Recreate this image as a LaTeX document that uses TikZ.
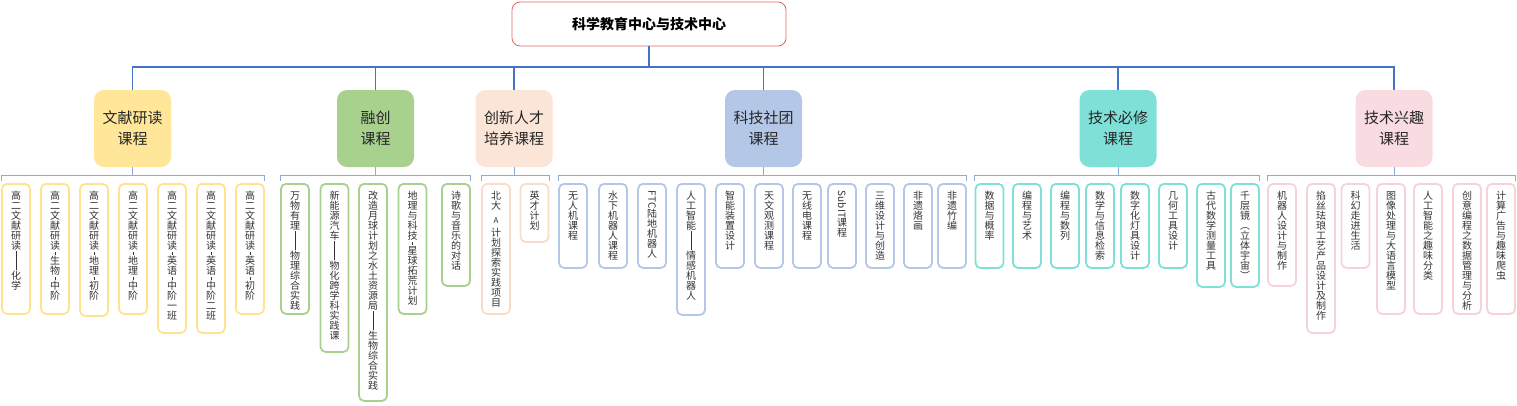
\documentclass[tikz,border=0pt]{standalone}
\usepackage{fontspec}
\setmainfont{Noto Sans CJK SC}
\usepackage{graphicx}
\definecolor{cy}{HTML}{FFE699}
\definecolor{cyl}{HTML}{FFE38F}
\definecolor{cg}{HTML}{A9D18E}
\definecolor{cp}{HTML}{FBE5D6}
\definecolor{cpl}{HTML}{FADCC8}
\definecolor{cb}{HTML}{B4C7E7}
\definecolor{ct}{HTML}{7FE0D8}
\definecolor{ck}{HTML}{F8DCE1}
\definecolor{ckl}{HTML}{F6D2D9}
\definecolor{busc}{HTML}{4472C4}
\definecolor{subc}{HTML}{8EA9DB}
\definecolor{rootc}{HTML}{E06666}
\definecolor{txt}{HTML}{333333}
\newcommand\vld{}
\newcommand\vsd{}
\newcommand\vlat[1]{\raisebox{9pt}{\rotatebox{-90}{#1}}}
\newcommand\vA{\rule[-4pt]{0pt}{17pt}{\fontsize{8}{8}\selectfont A}}
\ExplSyntaxOn
\NewDocumentCommand \vstack { m }
  {
    \offinterlineskip
    \tl_map_inline:nn {#1}
      {
        \str_case:nnF {##1}
          {
            { \vld } { \hbox_to_wd:nn { \linewidth } { \hfil \vrule ~ width ~ 0.6pt ~ height ~ 19.5pt ~ depth ~ -0.5pt \vrule ~ width ~ 0pt ~ height ~ 20pt ~ depth ~ 0pt \hfil } }
            { \vsd } { \hbox_to_wd:nn { \linewidth } { \hfil \vrule ~ width ~ 0.5pt ~ height ~ 4pt ~ depth ~ -1pt \vrule ~ width ~ 0pt ~ height ~ 5pt ~ depth ~ 0pt \hfil } }
          }
          { \hbox_to_wd:nn { \linewidth } { \hfil \vrule ~ width ~ 0pt ~ height ~ 8.6pt ~ depth ~ 1.4pt ##1 \hfil } }
      }
  }
\ExplSyntaxOff
\newcommand\lf[2]{\parbox[c][#1][t]{24pt}{\fontsize{10}{10}\selectfont\color{txt}\vspace*{7pt}\vstack{#2}}}
\tikzset{
  rootbox/.style={draw=rootc, line width=0.8pt, rounded corners=8pt, fill=white, minimum width=274pt, minimum height=44pt, inner sep=0pt, font=\bfseries\fontsize{14}{16}\selectfont},
  catbox/.style={fill=#1, rounded corners=10pt, minimum width=77pt, minimum height=77pt, inner sep=0pt, align=center, font=\fontsize{15}{21}\selectfont, text=black!85},
  leaf/.style={draw=#1, line width=1.8pt, rounded corners=5pt, fill=white, anchor=north, minimum width=28pt, inner sep=0pt},
  bus/.style={draw=busc, line width=1.3pt},
  sub/.style={draw=subc, line width=1pt},
}
\begin{document}
\begin{tikzpicture}[x=1pt, y=-1pt]
\useasboundingbox (0,0) rectangle (1517,405);
\coordinate (bus) at (0,67);
\coordinate (brk) at (0,175);
\node[rootbox] (root) at (649,24) {科学教育中心与技术中心};
\node[catbox=cy] (k1) at (132.5,128.5) {文献研读\\课程};
\node[catbox=cg] (k2) at (375.5,128.5) {融创\\课程};
\node[catbox=cp] (k3) at (514,128.5) {创新人才\\培养课程};
\node[catbox=cb] (k4) at (763.5,128.5) {科技社团\\课程};
\node[catbox=ct] (k5) at (1118,128.5) {技术必修\\课程};
\node[catbox=ck] (k6) at (1394,128.5) {技术兴趣\\课程};
% top-level connectors
\draw[bus] (root.south) -- (root.south |- bus);
\draw[bus] (k1.north) -- (k1.north |- bus) -- (k6.north |- bus) -- (k6.north);
\foreach \k in {k2,k3,k4,k5} \draw[bus] (\k.north |- bus) -- (\k.north);
% group 1
\node[leaf=cyl] (a1) at (16,183) {\lf{130pt}{高二文献研读\vld 化学}};
\node[leaf=cyl] (a2) at (55,183) {\lf{130pt}{高二文献研读\vsd 生物\vsd 中阶}};
\node[leaf=cyl] (a3) at (94,183) {\lf{132pt}{高二文献研读\vsd 地理\vsd 初阶}};
\node[leaf=cyl] (a4) at (133,183) {\lf{130pt}{高二文献研读\vsd 地理\vsd 中阶}};
\node[leaf=cyl] (a5) at (172,183) {\lf{149pt}{高二文献研读\vsd 英语\vsd 中阶一班}};
\node[leaf=cyl] (a6) at (211,183) {\lf{149pt}{高二文献研读\vsd 英语\vsd 中阶二班}};
\node[leaf=cyl] (a7) at (250,183) {\lf{130pt}{高二文献研读\vsd 英语\vsd 初阶}};
% group 2
\node[leaf=cg] (b1) at (295,183) {\lf{130pt}{万物有理\vld 物理综合实践}};
\node[leaf=cg] (b2) at (334.5,183) {\lf{168pt}{新能源汽车\vld 物化跨学科实践课}};
\node[leaf=cg] (b3) at (373,183) {\lf{217pt}{改造月球计划之水土资源局\vld 生物综合实践}};
\node[leaf=cg] (b4) at (412.5,183) {\lf{130pt}{地理与科技\vsd 星球拓荒计划}};
\node[leaf=cg] (b5) at (456,183) {\lf{102pt}{诗歌与音乐的对话}};
% group 3
\node[leaf=cpl] (c1) at (496,183) {\lf{130pt}{北大\vA 计划探索实践项目}};
\node[leaf=cpl] (c2) at (534.5,183) {\lf{58pt}{英才计划}};
% group 4
\node[leaf=cb] (d1) at (573,183) {\lf{84pt}{无人机课程}};
\node[leaf=cb] (d2) at (613,183) {\lf{84pt}{水下机器人课程}};
\node[leaf=cb] (d3) at (652,183) {\lf{84pt}{{\vlat{FTC}}陆地机器人}};
\node[leaf=cb] (d4) at (691,183) {\lf{131pt}{人工智能\vld 情感机器人}};
\node[leaf=cb] (d5) at (730,183) {\lf{84pt}{智能装置设计}};
\node[leaf=cb] (d6) at (769,183) {\lf{84pt}{天文观测课程}};
\node[leaf=cb] (d7) at (807,183) {\lf{84pt}{无线电课程}};
\node[leaf=cb] (d8) at (842,183) {\lf{84pt}{{\vlat{SubIT}}课程}};
\node[leaf=cb] (d9) at (880,183) {\lf{84pt}{三维设计与创造}};
\node[leaf=cb] (d10) at (918,183) {\lf{84pt}{非遗烙画}};
\node[leaf=cb] (d11) at (952,183) {\lf{84pt}{非遗竹编}};
% group 5
\node[leaf=ct] (e1) at (989.5,183) {\lf{84pt}{数据与概率}};
\node[leaf=ct] (e2) at (1027,183) {\lf{84pt}{编程与艺术}};
\node[leaf=ct] (e3) at (1065,183) {\lf{84pt}{编程与数列}};
\node[leaf=ct] (e4) at (1100,183) {\lf{84pt}{数学与信息检索}};
\node[leaf=ct] (e5) at (1135,183) {\lf{84pt}{数字化灯具设计}};
\node[leaf=ct] (e6) at (1173,183) {\lf{84pt}{几何工具设计}};
\node[leaf=ct] (e7) at (1211,183) {\lf{103pt}{古代数学测量工具}};
\node[leaf=ct] (e8) at (1245,183) {\lf{103pt}{千层镜︵立体宇宙︶}};
% group 6
\node[leaf=ckl] (f1) at (1282,183) {\lf{102pt}{机器人设计与制作}};
\node[leaf=ckl] (f2) at (1321,183) {\lf{149pt}{掐丝珐琅工艺产品设计及制作}};
\node[leaf=ckl] (f3) at (1355.5,183) {\lf{84pt}{科幻走进生活}};
\node[leaf=ckl] (f4) at (1391,183) {\lf{130pt}{图像处理与大语言模型}};
\node[leaf=ckl] (f5) at (1428,183) {\lf{130pt}{人工智能之趣味分类}};
\node[leaf=ckl] (f6) at (1467,183) {\lf{130pt}{创意编程之数据管理与分析}};
\node[leaf=ckl] (f7) at (1501,183) {\lf{130pt}{计算广告与趣味爬虫}};
% group brackets
\foreach \k/\p/\q in {k1/a1/a7, k2/b1/b5, k3/c1/c2, k4/d1/d11, k5/e1/e8, k6/f1/f7} {
  \draw[sub] (\k.south) -- (\k.south |- brk);
  \draw[sub] ([yshift=2pt]\p.north west) -- ([yshift=8pt]\p.north west) -- ([yshift=8pt]\q.north east) -- ([yshift=2pt]\q.north east);
}
\end{tikzpicture}
\end{document}
